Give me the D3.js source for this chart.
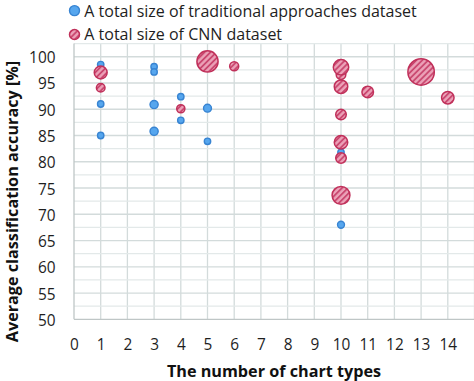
<!DOCTYPE html>
<html><head><meta charset="utf-8">
<script src="https://cdn.jsdelivr.net/npm/d3@7"></script>
<style>
html,body{margin:0;padding:0;background:#fff;}
svg{display:block;font-family:"Open Sans",sans-serif;}
</style></head>
<body>
<svg id="chart" width="474" height="381"></svg>
<script>
// ---- data ----
const seriesNames = ["A total size of traditional approaches dataset", "A total size of CNN dataset"];
// traditional approaches (blue)
const tradX    = [1, 1, 1, 3, 3, 3, 3, 4, 4, 5, 5, 10, 10];
const tradY    = [98.5, 91.0, 85.0, 98.1, 97.1, 90.9, 85.8, 92.4, 87.9, 90.2, 83.9, 81.8, 68.0];
const tradSize = [11, 11, 11, 11, 11, 18, 18, 11, 11, 17, 11, 11, 13];
// CNN (red, hatched)
const cnnX    = [1, 1, 4, 5, 6, 10, 10, 10, 10, 10, 10, 10, 11, 13, 14];
const cnnY    = [97.0, 94.1, 90.1, 99.1, 98.2, 96.6, 98.0, 94.3, 89.0, 83.7, 80.7, 73.6, 93.3, 97.1, 92.2];
const cnnSize = [45, 20, 18, 121, 22, 25, 64, 49, 30, 49, 30, 86, 36, 188, 42];
const xTickLabels = ["0","1","2","3","4","5","6","7","8","9","10","11","12","13","14"];
const yTickLabels = ["50","55","60","65","70","75","80","85","90","95","100"];
const xTitle = "The number of chart types";
const yTitle = "Average classification accuracy [%]";

// ---- layout ----
const svg = d3.select("#chart");
const x = d3.scaleLinear().domain([0, 15]).range([74, 474.5]);
const y = d3.scaleLinear().domain([50, 102.5]).range([319.3, 43.6]);
const maxSize = d3.max(cnnSize.concat(tradSize));
const r = d3.scaleSqrt().domain([0, maxSize]).range([0, 13.2]);

// hatch pattern
const defs = svg.append("defs");
const pat = defs.append("pattern").attr("id","hatch").attr("patternUnits","userSpaceOnUse")
  .attr("width",4.2).attr("height",4.2).attr("patternTransform","rotate(45)");
pat.append("rect").attr("width",4.2).attr("height",4.2).attr("fill","#eca2b8");
pat.append("line").attr("x1",1).attr("x2",1).attr("y1",0).attr("y2",4.2)
  .attr("stroke","#c7406a").attr("stroke-width",1.7);

// gridlines
const g = svg.append("g");
const xGrid = d3.range(1, 16);
g.selectAll("line.vg").data(xGrid).join("line").attr("class","vg")
  .attr("x1",d=>x(d)).attr("x2",d=>x(d)).attr("y1",y(102.5)).attr("y2",y(50))
  .attr("stroke","#d3dbdb").attr("stroke-width",1.3);
const yGrid = d3.range(52.5, 102.6, 2.5);
g.selectAll("line.hg").data(yGrid).join("line").attr("class","hg")
  .attr("x1",x(0)).attr("x2",474).attr("y1",d=>y(d)).attr("y2",d=>y(d))
  .attr("stroke",d=> (d % 5 === 0) ? "#d3dbdb" : "#e3e9e9").attr("stroke-width",1.3);

// axes
const xAxis = d3.axisBottom(x).tickValues(d3.range(0,15)).tickSize(0).tickFormat((d,i)=>xTickLabels[i]);
const yAxis = d3.axisLeft(y).tickValues(d3.range(50,101,5)).tickSize(0).tickFormat((d,i)=>yTickLabels[i]);
const gx = svg.append("g").attr("transform",`translate(0,${y(50)})`).call(xAxis);
const gy = svg.append("g").attr("transform",`translate(${x(0)},0)`).call(yAxis);
[gx, gy].forEach(a=>{
  a.select(".domain").attr("stroke","#bfc6c6").attr("stroke-width",1.3);
  a.selectAll("text").attr("font-family","Open Sans").attr("font-size","15.4px").attr("fill","#1e1e1e");
});
gx.select(".domain").attr("d",`M${x(0)},0H474`);
gy.select(".domain").attr("d",`M0,${y(102.5)}V${y(50)}`);
gx.selectAll("text").attr("dy",null).attr("y",30.7);
gy.selectAll("text").attr("dy",null).attr("x",-18.5).attr("y",6);

// bubbles
const trad = tradX.map((d,i)=>({x:d, y:tradY[i], s:tradSize[i]}));
const cnn = cnnX.map((d,i)=>({x:d, y:cnnY[i], s:cnnSize[i]}));
svg.append("g").selectAll("circle").data(trad).join("circle")
  .attr("cx",d=>x(d.x)).attr("cy",d=>y(d.y)).attr("r",d=>r(d.s))
  .attr("fill","#56a6ee").attr("stroke","#3884d2").attr("stroke-width",1.4);
svg.append("g").selectAll("circle").data(cnn).join("circle")
  .attr("cx",d=>x(d.x)).attr("cy",d=>y(d.y)).attr("r",d=>r(d.s))
  .attr("fill","url(#hatch)").attr("stroke","#c0305a").attr("stroke-width",1.5);

// legend
function fitText(sel, w){
  const len = sel.node().getComputedTextLength();
  if (len > w) sel.attr("textLength", w).attr("lengthAdjust","spacingAndGlyphs");
}
const leg = svg.append("g");
leg.append("circle").attr("cx",74.5).attr("cy",10.6).attr("r",5)
  .attr("fill","#56a6ee").attr("stroke","#3884d2").attr("stroke-width",1.4);
leg.append("circle").attr("cx",74.5).attr("cy",34.5).attr("r",5)
  .attr("fill","url(#hatch)").attr("stroke","#c0305a").attr("stroke-width",1.5);
const lt1 = leg.append("text").attr("x",84.3).attr("y",17).attr("font-size","16px").attr("fill","#1e1e1e").text(seriesNames[0]);
const lt2 = leg.append("text").attr("x",84.3).attr("y",40.4).attr("font-size","16px").attr("fill","#1e1e1e").text(seriesNames[1]);
fitText(lt1, 349); fitText(lt2, 212);

// titles
const xt = svg.append("text").attr("x",274).attr("y",376.5).attr("text-anchor","middle")
  .attr("font-weight","bold").attr("font-size","16.2px").attr("fill","#111").text(xTitle);
fitText(xt, 215);
const yt = svg.append("text").attr("transform","translate(17.8,201.5) rotate(-90)").attr("text-anchor","middle")
  .attr("font-weight","bold").attr("font-size","16.2px").attr("fill","#111").text(yTitle);
fitText(yt, 297);
</script>
</body></html>
